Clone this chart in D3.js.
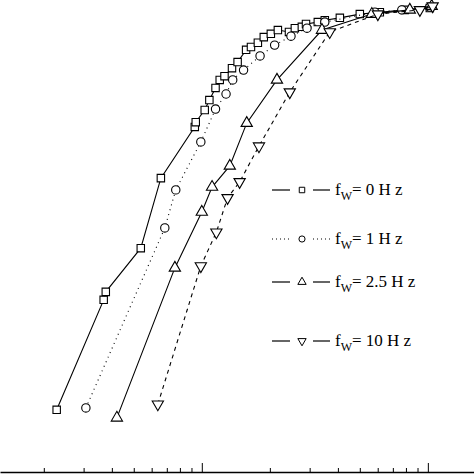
<!DOCTYPE html>
<html>
<head>
<meta charset="utf-8">
<script src="https://cdn.jsdelivr.net/npm/d3@7"></script>
<style>
  body { margin: 0; background: #fff; }
  svg { display: block; }
</style>
</head>
<body>
<svg width="474" height="474"></svg>
<script>
// series: x (log axis), y (percent-like)
const sqX = [0.228, 0.368, 0.376, 0.537, 0.659, 0.931, 0.940, 1.03, 1.08, 1.15, 1.20, 1.26, 1.36, 1.44, 1.57, 1.65, 1.77, 1.88, 2.02, 2.17, 2.43, 2.58, 2.77, 2.89, 3.26, 3.50, 4.08, 5.00, 6.13, 7.91, 10.2];
const sqY = [12.8, 36.2, 37.9, 47.2, 62.1, 73.0, 74.0, 76.6, 78.7, 81.3, 83.0, 83.8, 85.5, 86.8, 89.4, 90.0, 90.9, 92.1, 92.8, 93.6, 93.2, 94.0, 94.3, 94.9, 95.3, 95.7, 96.2, 97.0, 97.4, 97.9, 98.3];
const ciX = [0.307, 0.686, 0.767, 0.99, 1.15, 1.28, 1.37, 1.53, 1.81, 2.10, 2.48, 2.92, 3.50, 5.83, 7.67, 10.2];
const ciY = [13.2, 51.5, 59.6, 69.8, 76.8, 80.0, 83.0, 85.1, 88.1, 90.4, 92.3, 94.0, 95.3, 97.4, 97.9, 98.5];
const upX = [0.421, 0.760, 1.0, 1.11, 1.33, 1.58, 2.15, 3.40, 5.65, 8.32, 10.4];
const upY = [11.1, 43.0, 54.9, 60.2, 64.7, 73.8, 83.0, 93.6, 97.0, 97.9, 98.7];
const dnX = [0.639, 0.99, 1.16, 1.30, 1.47, 1.79, 2.45, 3.68, 6.01, 9.22, 10.5];
const dnY = [14.0, 43.4, 50.6, 57.9, 61.3, 68.9, 80.4, 93.2, 97.0, 97.9, 98.7];
const legendLabels = ["0 Hz", "1 Hz", "2.5 Hz", "10 Hz"];

const svg = d3.select("svg");
const x = d3.scaleLog().domain([0.128, 16.0]).range([0, 474]);
const y = d3.scaleLinear().domain([0, 100]).range([470, 0]);

// bottom axis (log ticks, no labels)
const axis = d3.axisBottom(x)
  .tickValues([0.2,0.3,0.4,0.5,0.6,0.7,0.8,0.9,1,2,3,4,5,6,7,8,9,10])
  .tickSize(-4).tickSizeOuter(0).tickFormat("");
const ag = svg.append("g").attr("transform", "translate(0,472)").call(axis);
ag.select(".domain").attr("stroke-width", 1.5);
ag.selectAll(".tick line").attr("y2", d => (d === 1 || d === 10) ? -9 : -4);

const series = [
  { xs: sqX, ys: sqY, sym: d3.symbolSquare, dash: null, rot: 0 },
  { xs: ciX, ys: ciY, sym: d3.symbolCircle, dash: "1,4", rot: 0 },
  { xs: upX, ys: upY, sym: d3.symbolTriangle, dash: null, rot: 0 },
  { xs: dnX, ys: dnY, sym: d3.symbolTriangle, dash: "4,4", rot: 180 }
];

const line = d3.line().x(d => x(d[0])).y(d => y(d[1]));

series.forEach(s => {
  const pts = s.xs.map((v, i) => [v, s.ys[i]]);
  svg.append("path").datum(pts).attr("d", line)
    .attr("fill", "none").attr("stroke", "#000").attr("stroke-width", 1.1)
    .attr("stroke-dasharray", s.dash);
  svg.append("g").selectAll("path").data(pts).join("path")
    .attr("d", d3.symbol().type(s.sym).size(55))
    .attr("transform", d => `translate(${x(d[0])},${y(d[1])}) rotate(${s.rot})`)
    .attr("fill", "#fff").attr("stroke", "#000").attr("stroke-width", 1.1);
});

// legend
const legY = [190, 239, 282, 341];
series.forEach((s, i) => {
  const g = svg.append("g").attr("transform", `translate(0,${legY[i]})`);
  [[272, 290], [313, 330]].forEach(([a, b]) => {
    g.append("line").attr("x1", a).attr("x2", b).attr("y1", 0).attr("y2", 0)
      .attr("stroke", "#000").attr("stroke-width", 1.2)
      .attr("stroke-dasharray", i === 1 ? "1,3" : null);
  });
  g.append("path").attr("d", d3.symbol().type(s.sym).size(30))
    .attr("transform", `translate(302,0) rotate(${s.rot})`)
    .attr("fill", "#fff").attr("stroke", "#000");
  const t = g.append("text").attr("x", 335).attr("y", 5)
    .style("font-family", "'Liberation Serif', serif").attr("font-size", 17);
  t.append("tspan").text("f");
  t.append("tspan").attr("dy", 5).attr("font-size", 12).text("W");
  t.append("tspan").attr("dy", -5).text("= " + legendLabels[i].replace("Hz", "H z"));
});
</script>
</body>
</html>
